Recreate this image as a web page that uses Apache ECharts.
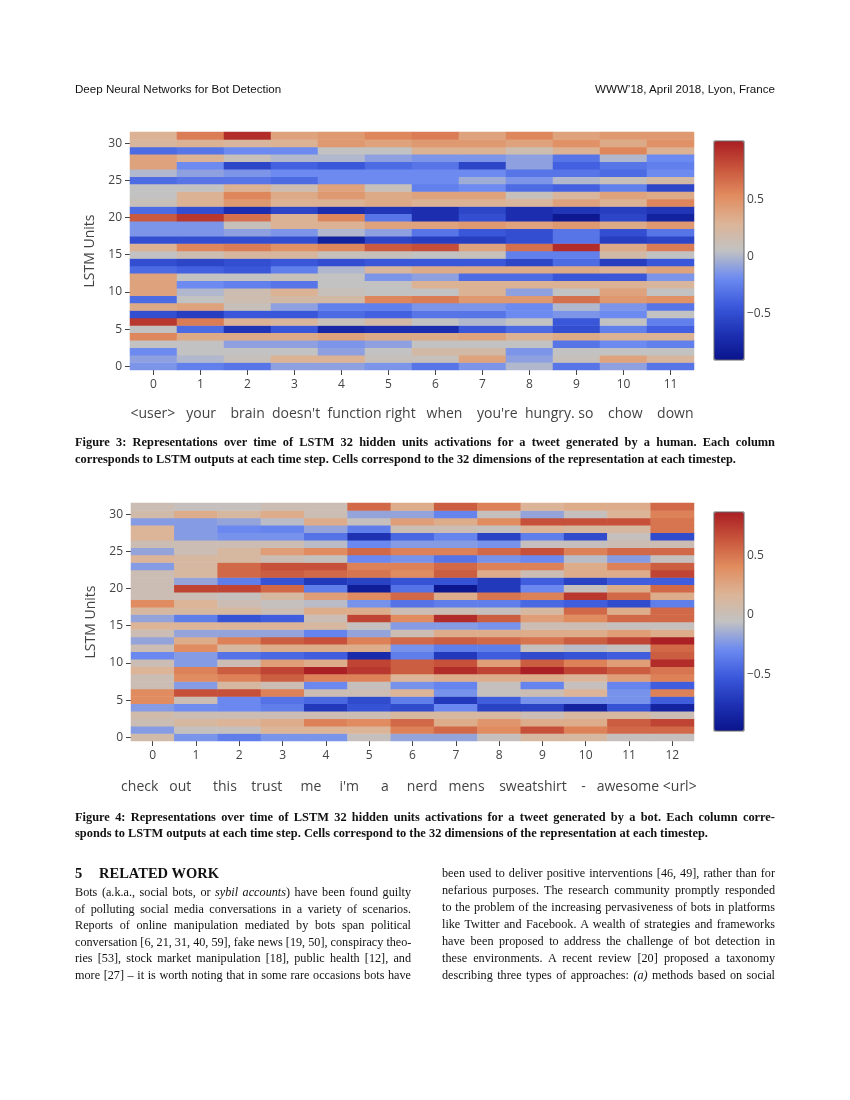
<!DOCTYPE html>
<html><head><meta charset="utf-8">
<script src="https://cdn.jsdelivr.net/npm/echarts@6/dist/echarts.min.js"></script>
<style>
html,body{margin:0;padding:0;background:#fff;}
#page{position:relative;width:850px;height:1100px;overflow:hidden;background:#fff;}
#chart{position:absolute;left:0;top:0;width:850px;height:1100px;}
.t{position:absolute;white-space:nowrap;color:#111;line-height:14px;}
.hdr{font-family:'Liberation Sans',sans-serif;font-size:11.6px;top:82px;}
.cap{font-family:'Liberation Serif',serif;font-weight:bold;font-size:12.4px;left:75px;width:700px;text-align:justify;text-align-last:justify;}
.cap.last{text-align-last:left;}
.body{font-family:'Liberation Serif',serif;font-size:12.2px;text-align:justify;text-align-last:justify;}
.lc{left:75px;width:336px;}
.rc{left:442px;width:333px;}
.h{font-family:'Liberation Serif',serif;font-weight:bold;font-size:14.5px;top:866px;}
</style></head>
<body><div id="page">
<div id="chart"></div>
<div class="t hdr" style="left:75px;">Deep Neural Networks for Bot Detection</div>
<div class="t hdr" style="right:75px;">WWW’18, April 2018, Lyon, France</div>

<div class="t cap" style="top:435px;">Figure 3: Representations over time of LSTM 32 hidden units activations for a tweet generated by a human. Each column</div>
<div class="t cap last" style="top:452px;">corresponds to LSTM outputs at each time step. Cells correspond to the 32 dimensions of the representation at each timestep.</div>

<div class="t cap" style="top:810px;">Figure 4: Representations over time of LSTM 32 hidden units activations for a tweet generated by a bot. Each column corre-</div>
<div class="t cap last" style="top:826px;">sponds to LSTM outputs at each time step. Cells correspond to the 32 dimensions of the representation at each timestep.</div>

<div class="t h" style="left:75px;">5</div>
<div class="t h" style="left:99px;">RELATED WORK</div>

<div class="t body lc" style="top:885px;">Bots (a.k.a., social bots, or <i>sybil accounts</i>) have been found guilty</div>
<div class="t body lc" style="top:902px;">of polluting social media conversations in a variety of scenarios.</div>
<div class="t body lc" style="top:918px;">Reports of online manipulation mediated by bots span political</div>
<div class="t body lc" style="top:935px;">conversation [6, 21, 31, 40, 59], fake news [19, 50], conspiracy theo-</div>
<div class="t body lc" style="top:951px;">ries [53], stock market manipulation [18], public health [12], and</div>
<div class="t body lc" style="top:968px;">more [27] – it is worth noting that in some rare occasions bots have</div>

<div class="t body rc" style="top:866px;">been used to deliver positive interventions [46, 49], rather than for</div>
<div class="t body rc" style="top:883px;">nefarious purposes. The research community promptly responded</div>
<div class="t body rc" style="top:900px;">to the problem of the increasing pervasiveness of bots in platforms</div>
<div class="t body rc" style="top:917px;">like Twitter and Facebook. A wealth of strategies and frameworks</div>
<div class="t body rc" style="top:934px;">have been proposed to address the challenge of bot detection in</div>
<div class="t body rc" style="top:951px;">these environments. A recent review [20] proposed a taxonomy</div>
<div class="t body rc" style="top:968px;">describing three types of approaches: <i>(a)</i> methods based on social</div>
</div>
<script>
// ---------- data ----------
const humanSteps = ['0','1','2','3','4','5','6','7','8','9','10','11'];
const botSteps = ['0','1','2','3','4','5','6','7','8','9','10','11','12'];
const unitLabels = ['0','1','2','3','4','5','6','7','8','9','10','11','12','13','14','15',
  '16','17','18','19','20','21','22','23','24','25','26','27','28','29','30','31'];
const humanTweet = '<user>   your    brain  doesn\'t  function right   when    you\'re  hungry. so    chow    down';
const botTweet = 'check   out      this    trust     me     i\'m      a     nerd   mens    sweatshirt    -   awesome <url>  ';
const colorbarTicks = [-0.5, 0, 0.5];
const humanRange = [-0.91, 1.01];
const botRange = [-0.97, 0.86];

// humanValues[unit][timestep]
const humanValues = [
  [-0.15,-0.25,-0.3,-0.1,-0.1,-0.15,-0.3,-0.15,0.0,-0.3,-0.1,-0.3],
  [-0.1,0.0,0.1,0.3,0.3,0.1,0.1,0.4,-0.1,0.1,0.4,0.25],
  [-0.2,0.05,0.05,0.05,-0.1,0.05,0.2,0.2,-0.15,0.05,0.05,0.05],
  [0.05,0.05,-0.1,-0.1,-0.15,-0.1,0.05,0.05,0.05,-0.3,-0.2,-0.25],
  [0.55,0.35,0.35,0.35,0.4,0.35,0.35,0.4,0.3,0.35,0.3,0.3],
  [0.05,-0.35,-0.65,-0.45,-0.75,-0.7,-0.7,-0.45,-0.35,-0.5,-0.25,-0.4],
  [0.9,0.6,0.3,0.25,0.1,0.2,0.05,0.0,0.05,-0.45,0.05,-0.25],
  [-0.5,-0.6,-0.45,-0.45,-0.35,-0.4,-0.3,-0.3,-0.2,-0.15,-0.2,0.05],
  [0.35,0.4,0.1,-0.1,-0.25,-0.25,-0.15,-0.15,-0.2,0.0,-0.15,-0.3],
  [-0.35,0.05,0.15,0.2,0.2,0.55,0.6,0.45,0.45,0.65,0.45,0.5],
  [0.4,0.0,0.15,0.3,0.1,0.05,0.05,0.3,-0.1,0.05,0.4,0.05],
  [0.4,-0.2,-0.25,-0.3,0.05,0.05,0.3,0.3,0.3,0.3,0.3,0.25],
  [0.4,0.05,0.05,0.1,0.05,-0.15,-0.1,-0.35,-0.35,-0.45,-0.45,-0.15],
  [-0.35,-0.4,-0.45,-0.25,0.0,0.25,0.35,0.35,0.35,0.35,0.3,0.4],
  [-0.5,-0.55,-0.5,-0.45,-0.5,-0.45,-0.45,-0.45,-0.55,-0.35,-0.6,-0.45],
  [0.05,0.15,0.25,0.25,0.1,0.1,0.05,0.1,-0.25,-0.25,0.2,0.05],
  [0.3,0.55,0.6,0.5,0.55,0.75,0.8,0.4,0.65,0.95,0.35,0.6],
  [-0.5,-0.5,-0.5,-0.5,-0.8,-0.55,-0.6,-0.6,-0.5,-0.3,-0.6,-0.55],
  [-0.15,-0.15,-0.1,-0.15,0.0,-0.1,-0.3,-0.45,-0.5,-0.3,-0.5,-0.3],
  [-0.15,-0.15,0.1,0.3,0.3,0.4,0.4,0.45,0.4,0.45,0.35,0.45],
  [0.75,0.9,0.65,0.3,0.55,-0.3,-0.7,-0.5,-0.7,-0.88,-0.55,-0.8],
  [-0.35,-0.5,-0.7,-0.55,-0.7,-0.65,-0.7,-0.55,-0.7,-0.65,-0.6,-0.65],
  [0.1,0.3,0.45,0.3,0.3,0.35,0.3,0.3,0.25,0.4,0.3,0.55],
  [0.05,0.3,0.55,0.35,0.45,0.35,0.4,0.4,0.1,0.25,0.4,0.35],
  [0.05,0.05,0.3,0.15,0.4,0.1,-0.25,-0.2,-0.35,-0.4,-0.25,-0.55],
  [-0.35,-0.3,-0.3,-0.35,-0.2,-0.2,-0.2,-0.05,-0.15,0.0,0.1,0.2],
  [0.0,-0.1,-0.15,-0.2,-0.2,-0.2,-0.2,-0.2,-0.3,-0.3,-0.35,-0.2],
  [0.4,-0.2,-0.55,-0.4,-0.45,-0.35,-0.3,-0.55,-0.1,-0.4,-0.3,-0.25],
  [0.4,0.3,0.1,0.0,0.0,-0.1,-0.15,-0.15,-0.1,-0.3,0.0,-0.2],
  [-0.35,-0.3,-0.2,-0.2,0.05,0.05,0.3,0.3,0.15,0.3,0.55,0.3],
  [0.25,0.3,0.25,0.3,0.45,0.4,0.45,0.45,0.4,0.5,0.35,0.5],
  [0.3,0.6,0.95,0.4,0.45,0.55,0.6,0.4,0.55,0.4,0.45,0.45]
];

// botValues[unit][timestep]
const botValues = [
  [0.07,-0.25,-0.35,-0.25,-0.25,-0.03,-0.18,-0.18,-0.03,0.12,0.12,-0.03,-0.03],
  [-0.22,-0.03,-0.03,0.17,0.17,0.17,0.45,0.55,0.4,0.65,0.45,0.55,0.55],
  [0.02,0.12,0.17,0.22,0.45,0.4,0.55,0.22,0.35,0.22,0.22,0.6,0.7],
  [0.07,0.02,0.02,0.02,0.02,0.02,0.12,0.12,0.12,0.02,0.12,0.12,0.02],
  [-0.22,-0.28,-0.3,-0.35,-0.7,-0.55,-0.6,-0.3,-0.65,-0.65,-0.85,-0.55,-0.85],
  [0.4,0.02,-0.3,-0.4,-0.45,-0.6,-0.35,-0.7,-0.5,-0.26,-0.26,-0.26,-0.5],
  [0.4,0.65,0.65,0.45,0.02,0.02,0.17,-0.26,-0.03,0.02,0.17,-0.26,0.45],
  [0.02,-0.22,0.12,0.02,-0.3,-0.03,-0.26,-0.32,-0.03,-0.32,-0.03,-0.32,-0.5],
  [0.02,0.4,0.45,0.6,0.45,0.45,0.17,0.22,0.22,0.22,0.17,0.3,0.45],
  [0.17,0.45,0.6,0.7,0.85,0.75,0.6,0.8,0.7,0.85,0.7,0.6,0.5],
  [0.02,-0.22,0.02,0.3,0.22,0.7,0.6,0.65,0.3,0.6,0.45,0.3,0.8],
  [-0.3,-0.22,-0.4,-0.45,-0.5,-0.8,-0.35,-0.7,-0.5,-0.6,-0.55,-0.5,0.6],
  [0.02,0.4,0.12,0.22,0.22,0.22,-0.26,-0.35,-0.35,-0.03,-0.08,-0.03,0.55],
  [-0.18,0.22,0.45,0.6,0.65,0.45,0.55,0.6,0.55,0.5,0.6,0.7,0.85],
  [0.02,-0.18,-0.18,-0.18,-0.32,-0.18,0.02,0.22,0.22,0.22,0.22,0.3,0.22],
  [0.17,0.17,0.17,0.17,0.12,-0.03,-0.22,-0.22,-0.26,0.02,0.02,-0.03,-0.03],
  [-0.18,-0.35,-0.55,-0.5,0.02,0.7,0.4,0.8,0.6,0.3,0.4,0.55,0.55],
  [0.12,0.12,0.12,0.02,0.22,0.22,0.02,0.02,-0.03,0.12,0.55,0.22,0.55],
  [0.4,0.17,0.02,-0.03,-0.08,-0.26,-0.4,-0.35,-0.35,-0.45,-0.5,-0.6,-0.35],
  [0.02,0.02,-0.03,0.12,0.3,0.4,0.55,0.22,0.5,0.45,0.75,0.55,0.22],
  [0.02,0.7,0.7,0.55,-0.35,-0.9,-0.4,-0.95,-0.7,-0.3,-0.03,0.22,0.55],
  [0.02,-0.18,-0.35,-0.55,-0.7,-0.65,-0.55,-0.55,-0.7,-0.5,-0.65,-0.5,-0.5],
  [0.02,0.12,0.55,0.6,0.55,0.5,0.4,0.6,0.22,0.02,0.22,0.22,0.7],
  [-0.22,0.12,0.55,0.65,0.65,0.45,0.45,0.55,0.45,0.45,0.22,0.45,0.6],
  [0.17,0.12,0.12,0.02,-0.03,-0.3,-0.26,-0.4,-0.26,-0.3,-0.08,-0.22,-0.03],
  [-0.18,0.02,0.12,0.3,0.4,0.55,0.45,0.45,0.55,0.65,0.45,0.55,0.55],
  [0.02,0.02,0.02,0.02,-0.08,-0.3,-0.22,-0.22,-0.26,-0.03,-0.03,0.02,0.02],
  [0.17,-0.22,-0.26,-0.26,-0.4,-0.75,-0.45,-0.32,-0.65,-0.35,-0.6,-0.03,-0.6],
  [0.17,-0.22,-0.3,-0.32,-0.18,-0.35,0.02,0.02,-0.03,0.17,0.12,0.12,0.5],
  [-0.22,-0.22,-0.18,-0.08,0.22,-0.03,0.3,0.22,0.4,0.65,0.65,0.65,0.5],
  [0.07,0.22,0.12,0.22,0.02,-0.18,-0.18,-0.32,-0.03,-0.18,-0.03,0.17,0.45],
  [0.02,-0.03,-0.03,0.02,0.02,0.55,0.22,0.6,0.45,0.17,0.22,0.22,0.55]
];

// ---------- chart ----------
const colorScale = ['#0a148c','#1e32b4','#3c5adc','#6e8cf0','#c2c2c2','#dcb496','#e18c5f','#c8553c','#aa1e23'];
function toCells(values){
  const out = [];
  values.forEach((row, u) => row.forEach((v, t) => out.push([t, u, v])));
  return out;
}
const axisColor = '#444';
function catX(grid, data, name, gap){
  return {type:'category', gridIndex:grid, data:data,
    axisLine:{show:false}, splitLine:{show:false},
    axisTick:{show:true, alignWithLabel:true, length:5, lineStyle:{color:axisColor}},
    axisLabel:{color:axisColor, fontSize:12, margin:9, fontFamily:'Open Sans'},
    name:name, nameLocation:'middle', nameGap:gap,
    nameTextStyle:{color:axisColor, fontSize:14, fontFamily:'Open Sans'}};
}
function catY(grid){
  return {type:'category', gridIndex:grid, data:unitLabels,
    axisLine:{show:false}, splitLine:{show:false},
    axisTick:{show:true, alignWithLabel:true, interval:4, length:5, lineStyle:{color:axisColor}},
    axisLabel:{color:axisColor, fontSize:12, margin:8, interval:4, fontFamily:'Open Sans'},
    name:'LSTM Units', nameLocation:'middle', nameGap:31, nameRotate:90,
    nameTextStyle:{color:axisColor, fontSize:14, fontFamily:'Open Sans'}};
}
function barY(grid, range){
  return {type:'value', gridIndex:grid, position:'right', min:range[0], max:range[1],
    axisLine:{show:false}, axisTick:{show:false}, splitLine:{show:false},
    axisLabel:{customValues:colorbarTicks, margin:3, color:axisColor, fontSize:12, fontFamily:'Open Sans',
      formatter:v => (v < 0 ? '\u2212' + String(Math.abs(v)) : String(v))}};
}
function vm(series, range, top){
  return {type:'continuous', seriesIndex:series, min:range[0], max:range[1],
    left:714, top:top, itemWidth:30, itemHeight:219, padding:0,
    calculable:false, hoverLink:false, orient:'vertical', text:null,
    inRange:{color:colorScale}};
}
const chart = echarts.init(document.getElementById('chart'), null, {renderer:'canvas'});
chart.setOption({
  animation:false,
  backgroundColor:'transparent',
  textStyle:{fontFamily:'Open Sans'},
  grid:[
    {left:130, top:132, width:564, height:238},
    {left:131, top:503, width:563, height:238},
    {left:714, top:141, width:30, height:219, show:true, borderColor:'#666', borderWidth:1, backgroundColor:'transparent', z:10},
    {left:714, top:512, width:30, height:219, show:true, borderColor:'#666', borderWidth:1, backgroundColor:'transparent', z:10}
  ],
  xAxis:[
    catX(0, humanSteps, humanTweet, 37),
    catX(1, botSteps, botTweet, 39),
    {type:'value', gridIndex:2, show:false, min:0, max:1},
    {type:'value', gridIndex:3, show:false, min:0, max:1}
  ],
  yAxis:[catY(0), catY(1), barY(2, humanRange), barY(3, botRange)],
  visualMap:[vm(0, humanRange, 141), vm(1, botRange, 512)],
  series:[
    {type:'heatmap', xAxisIndex:0, yAxisIndex:0, data:toCells(humanValues), itemStyle:{borderWidth:0}, emphasis:{disabled:true}},
    {type:'heatmap', xAxisIndex:1, yAxisIndex:1, data:toCells(botValues), itemStyle:{borderWidth:0}, emphasis:{disabled:true}}
  ]
});
</script>
</body></html>
